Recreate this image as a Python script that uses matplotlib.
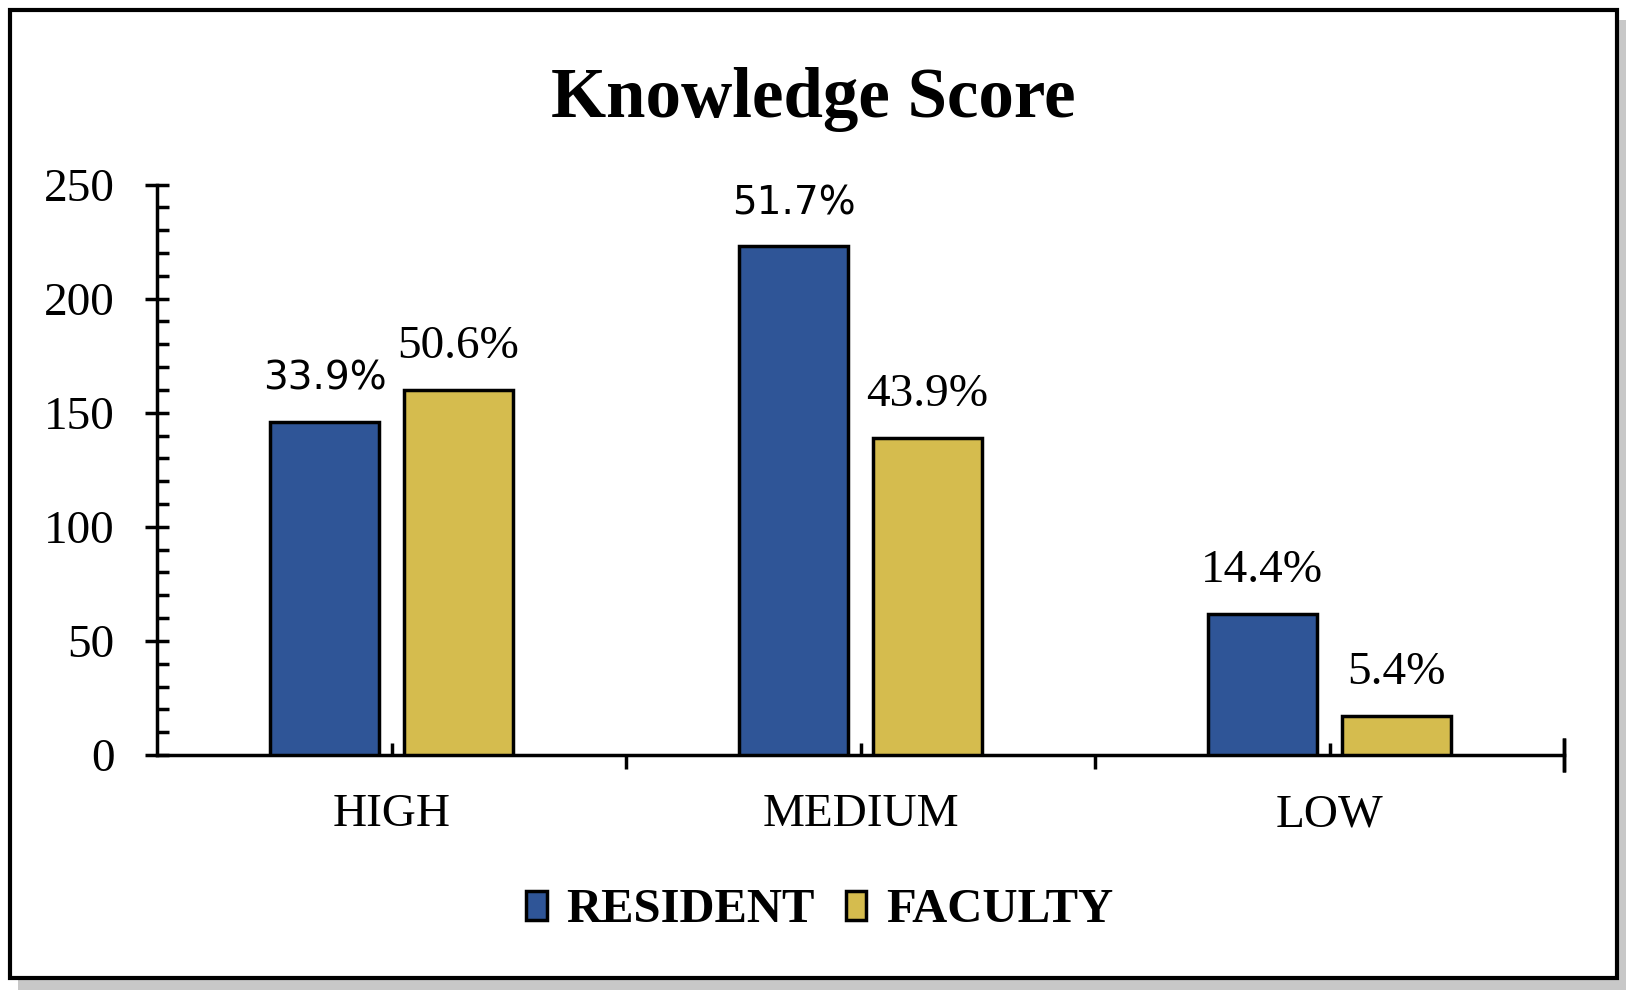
import numpy as np
import matplotlib
matplotlib.use("Agg")
import matplotlib.pyplot as plt
from matplotlib.patches import Rectangle
from matplotlib.ticker import MultipleLocator, FixedLocator

# data
categories = ["HIGH", "MEDIUM", "LOW"]
resident = [146, 223, 62]
faculty = [160, 139, 17]
resident_pct = ["33.9%", "51.7%", "14.4%"]
faculty_pct = ["50.6%", "43.9%", "5.4%"]

blue = "#2F5597"
gold = "#D5BC4E"
serif = "Liberation Serif"
# the source mixes fonts on the labels
resident_fonts = ["DejaVu Sans", "DejaVu Sans", serif]
faculty_fonts = [serif, serif, serif]

fig = plt.figure(figsize=(16.44, 10.06), dpi=100)
ax = fig.add_axes([157 / 1644, 1 - 755 / 1006, (1564 - 157) / 1644, (755 - 184.5) / 1006])

x = np.arange(len(categories))
w = 0.232
off = 0.143
lw = 2.5
ax.bar(x - off, resident, w, color=blue, edgecolor="black", linewidth=lw, label="RESIDENT", zorder=3)
ax.bar(x + off, faculty, w, color=gold, edgecolor="black", linewidth=lw, label="FACULTY", zorder=3)

for i in range(len(categories)):
    for xs, v, t, fam in [(x[i] - off, resident[i], resident_pct[i], resident_fonts[i]),
                          (x[i] + off, faculty[i], faculty_pct[i], faculty_fonts[i])]:
        size = 28 if fam == "DejaVu Sans" else 34
        ax.annotate(t, (xs, v), xytext=(0, 23), textcoords="offset points",
                    ha="center", va="baseline", fontsize=size, family=fam)

ax.set_xlim(-0.5, 2.5)
ax.set_ylim(0, 250)
for s in ["top", "right"]:
    ax.spines[s].set_visible(False)
for s in ["left", "bottom"]:
    ax.spines[s].set_linewidth(lw)

ax.yaxis.set_major_locator(MultipleLocator(50))
ax.yaxis.set_minor_locator(MultipleLocator(10))
ax.tick_params(axis="y", which="major", direction="inout", length=17, width=lw,
               labelsize=34, pad=22)
ax.tick_params(axis="y", which="minor", direction="in", length=8.5, width=lw)
for lab in ax.get_yticklabels():
    lab.set_family(serif)

ax.set_xticks(x)
ax.set_xticklabels(categories, family=serif, fontsize=34)
ax.tick_params(axis="x", which="major", direction="in", length=8.5, width=lw, pad=28)
ax.xaxis.set_minor_locator(FixedLocator([0.5, 1.5]))
ax.tick_params(axis="x", which="minor", direction="out", length=10, width=lw)
# end cap of the x axis
ax.plot([2.5, 2.5], [0, 0], marker="|", markersize=24, markeredgewidth=lw,
        color="black", clip_on=False, zorder=4)

fig.text(813 / 1644, 1 - 99 / 1006, "Knowledge Score", ha="center", va="center",
         fontsize=51, fontweight="bold", family=serif)

leg = fig.legend(loc="center", bbox_to_anchor=(0.4985, 0.095), ncol=2, frameon=False,
                 prop={"family": serif, "weight": "bold", "size": 35},
                 handlelength=0.42, handleheight=0.55, handletextpad=0.4,
                 columnspacing=0.65)

# page frame with shadow
fig.patches.append(Rectangle((18 / 1644, 1 - 990 / 1006), 1608 / 1644, 970 / 1006,
                             transform=fig.transFigure, facecolor="#C8C8C8",
                             edgecolor="none", zorder=-3))
fig.patches.append(Rectangle((10 / 1644, 1 - 978 / 1006), 1607 / 1644, 968 / 1006,
                             transform=fig.transFigure, facecolor="white",
                             edgecolor="black", linewidth=3, zorder=-2))

fig.savefig("out.png", dpi=100)
